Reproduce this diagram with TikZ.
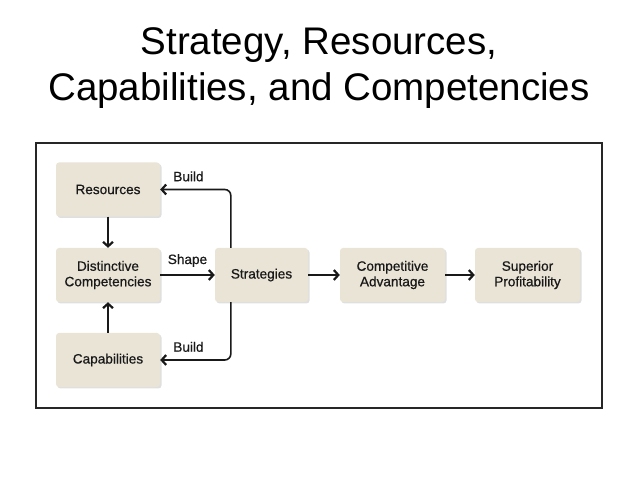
\documentclass[tikz,border=0pt]{standalone}
\usepackage{fontspec}
\setmainfont{Liberation Sans}
\newfontfamily\boxfont[FakeBold=0.6]{Liberation Sans}
\usepackage{tikz}
\usetikzlibrary{arrows.meta, positioning, shadows}
\definecolor{boxFill}{RGB}{233,228,214}
\colorlet{cText}{black!90}
\colorlet{cLine}{black!90}

\begin{document}
\begin{tikzpicture}[x=1pt, y=1pt,
    stagebox/.style={draw=none, fill=boxFill, rounded corners=3pt, align=center,
      minimum height=54pt, font=\boxfont\fontsize{13.6}{15.5}\selectfont, text=cText,
      drop shadow={opacity=0.25, shadow xshift=1.5pt, shadow yshift=-1.5pt}},
    link/.style={line width=1.6pt, color=cLine,
      -{Straight Barb[length=4.5pt, width=10pt, line width=2.2pt]}},
    lbl/.style={font=\boxfont\fontsize{13.6}{15.5}\selectfont, text=cText}]
  \useasboundingbox (0,0) rectangle (638,479);
  % Titulo
  \node[align=center, font=\fontsize{38.5}{46}\selectfont] (title) at (319,411)
    {Strategy, Resources,\\Capabilities, and Competencies};
  % Moldura
  \draw[line width=1.3pt, black!85] (36,71) rectangle (602,336);
  % Caixas
  \node[stagebox, minimum width=104pt] (res) at (108,289.5) {Resources};
  \node[stagebox, minimum width=104pt] (dist) at (108,204) {Distinctive\\Competencies};
  \node[stagebox, minimum width=104pt] (cap) at (108,119) {Capabilities};
  \node[stagebox, minimum width=93pt] (strat) at (261.5,204) {Strategies};
  \node[stagebox, minimum width=105pt] (comp) at (392.5,204) {Competitive\\Advantage};
  \node[stagebox, minimum width=105pt] (prof) at (527.5,204) {Superior\\Profitability};
  % Setas
  \draw[link] (res) -- (dist);
  \draw[link] (cap) -- (dist);
  \draw[link] (dist) -- node[lbl, above=4pt] {Shape} (strat);
  \draw[link] (strat) -- (comp);
  \draw[link] (comp) -- (prof);
  \draw[link, rounded corners=6pt] ([xshift=16pt]strat.north west) |- node[lbl, pos=0.8, above=4pt] {Build} (res);
  \draw[link, rounded corners=6pt] ([xshift=16pt]strat.south west) |- node[lbl, pos=0.8, above=4pt] {Build} (cap);
\end{tikzpicture}
\end{document}
